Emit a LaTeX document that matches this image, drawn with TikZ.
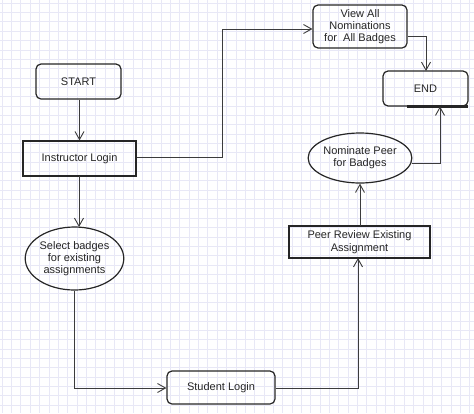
\documentclass[tikz,border=0pt]{standalone}
\usepackage{fontspec}
\setmainfont{Liberation Sans}
\usetikzlibrary{arrows.meta,shapes.geometric}
\definecolor{gridc}{RGB}{232,232,246}
\definecolor{linec}{RGB}{60,60,60}
\tikzset{
  every node/.style={font=\fontsize{11}{12.3}\selectfont, text=black!85, align=center, inner sep=0pt},
  rbox/.style={draw=black!85, line width=1.2pt, rounded corners=5pt},
  sbox/.style={draw=black!85, line width=1.2pt},
  ebox/.style={draw=black!85, line width=1.2pt, ellipse},
  conn/.style={draw=linec, line width=1pt, -{Straight Barb[length=8pt,width=9pt,line width=0.9pt]}},
  connp/.style={draw=linec, line width=1pt}
}
\begin{document}
\begin{tikzpicture}[x=1pt,y=-1pt]
\useasboundingbox (0,0) rectangle (474,413);
\fill[white] (0,0) rectangle (474,413);
\foreach \i in {0,...,51} {\draw[gridc, line width=0.5pt] (\i*9.35+2,0) -- (\i*9.35+2,413);}
\foreach \j in {0,...,45} {\draw[gridc, line width=0.5pt] (0,\j*9.35+3) -- (474,\j*9.35+3);}
% nodes
\node[rbox, minimum width=85pt, minimum height=35pt] (start) at (78.5,81.5) {START};
\node[sbox, minimum width=113pt, minimum height=35pt] (instr) at (79.5,158.5) {Instructor Login};
\node[rbox, minimum width=94pt, minimum height=43pt] (view) at (360,26.5) {View All\\Nominations\\for~ All Badges};
\node[rbox, minimum width=85pt, minimum height=35pt] (end) at (425.5,88.5) {END};
\node[ebox, minimum width=94pt, minimum height=50pt] (nom) at (360,158) {Nominate Peer\\for Badges};
\node[sbox, minimum width=141pt, minimum height=32pt] (peer) at (359.5,242) {Peer Review Existing\\Assignment};
\node[ebox, minimum width=95pt, minimum height=63pt] (sel) at (74.5,258.5) {Select badges\\for existing\\assignments};
\node[rbox, minimum width=108pt, minimum height=33pt] (stud) at (221,387.5) {Student Login};
\draw[black!85, line width=2.5pt] ([xshift=25pt]end.south west) -- ([xshift=-1pt]end.south east);
% connectors
\coordinate (c1) at (222,157);
\coordinate (c2) at (222,29);
\draw[conn] (start.south -| instr.north) -- (instr.north);
\draw[conn] (instr.east |- c1) -- (c1) -- (c2) -- (view.west |- c2);
\draw[conn] (view.east |- 0,36) -- (426,36) -- (426,71);
\draw[conn] (nom.east |- 0,163) -- (440,163) -- (440,106.5);
\draw[conn] (360,226) -- (nom.south);
\draw[conn] (79,176) -- (79,227);
\coordinate (c3) at (74,388);
\draw[conn] (sel.south -| c3) -- (c3) -- (stud.west |- c3);
\coordinate (c4) at (358,388);
\draw[conn] (stud.east |- c4) -- (c4) -- (358,258);
\end{tikzpicture}
\end{document}
